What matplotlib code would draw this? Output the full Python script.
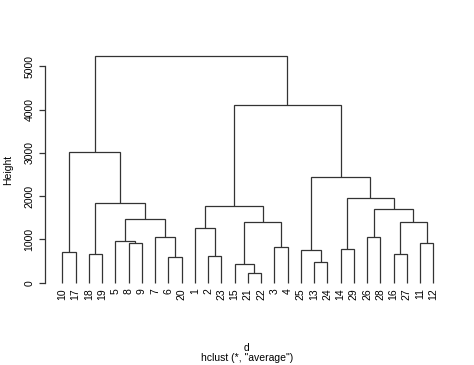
import matplotlib
matplotlib.use("Agg")
import matplotlib.pyplot as plt

# Merge tree (R hclust style): negative = leaf id, positive = earlier merge (1-based)
merge_left = [-21, -15, -13, -6, -2, -16, -18, -10, -25, -14, -3, -11, -8, -5, -7, -26,
              -1, 2, 6, 14, 16, 17, 7, 10, 9, 8, 22, 26]
merge_right = [-22, 1, -24, -20, -23, -27, -19, -17, 3, -29, -4, -12, -9, 13, 4, -28,
               5, 11, 12, 15, 19, 18, 20, 21, 24, 23, 25, 27]
merge_height = [218, 426, 479, 595, 611, 657, 672, 718, 757, 788, 833, 912, 926, 973,
                1065, 1060, 1259, 1398, 1413, 1467, 1698, 1768, 1852, 1953, 2440, 3010,
                4113, 5247]
yticks = [0, 1000, 2000, 3000, 4000, 5000]

plt.rcParams['font.family'] = ['Liberation Sans', 'DejaVu Sans']
W, H = 474, 365
fig = plt.figure(figsize=(W / 100, H / 100), dpi=100)

# axes in pixel coordinates
L, R, T, B = 45, 450, 40, 300
ax = fig.add_axes([L / W, 1 - B / H, (R - L) / W, (B - T) / H])

# leaf order by traversal
order = []
def traverse(node):
    if node < 0:
        order.append(-node)
    else:
        traverse(merge_left[node - 1])
        traverse(merge_right[node - 1])
traverse(len(merge_height))
pos = {leaf: i + 1 for i, leaf in enumerate(order)}
n = len(order)

lc = '#333333'
lw = 0.9
xs = {}
def xy(node):
    if node < 0:
        return pos[-node], 0.0
    return xs[node], merge_height[node - 1]

for i in range(len(merge_height)):
    xl, yl = xy(merge_left[i])
    xr, yr = xy(merge_right[i])
    h = merge_height[i]
    ax.plot([xl, xl, xr, xr], [yl, h, h, yr], color=lc, lw=lw, solid_capstyle='butt',
            solid_joinstyle='miter')
    xs[i + 1] = (xl + xr) / 2

# scales: 0 -> px 282.7, 5000 -> px 66.2
y0, y5 = 282.7, 66.2
ppu = (y0 - y5) / 5000
ax.set_ylim(-(B - y0) / ppu, (y0 - T) / ppu)
x1, xn = 62.3, 433.3
xpu = (xn - x1) / (n - 1)
ax.set_xlim(1 - (x1 - L) / xpu, n + (R - xn) / xpu)

for s in ['top', 'right', 'bottom']:
    ax.spines[s].set_visible(False)
ax.spines['left'].set_bounds(0, 5000)
ax.spines['left'].set_color(lc)
ax.spines['left'].set_linewidth(0.9)
ax.set_xticks([])
ax.set_yticks(yticks)
ax.set_yticklabels([str(v) for v in yticks], rotation=90, va='center', fontsize=7.5)
ax.tick_params(axis='y', length=4.5, width=0.9, color=lc, pad=3)
ax.set_ylabel('Height', fontsize=7.5, labelpad=8)
ax.patch.set_alpha(0)

for leaf, p in pos.items():
    ax.text(p, -5.5 / ppu, str(leaf), rotation=90, ha='center', va='top', fontsize=7.5)

fig.text(247 / W, 1 - 348 / H, 'd', ha='center', va='center', fontsize=7.5)
fig.text(247 / W, 1 - 358 / H, 'hclust (*, "average")', ha='center', va='center', fontsize=7.5)

fig.savefig('out.png', dpi=100)
